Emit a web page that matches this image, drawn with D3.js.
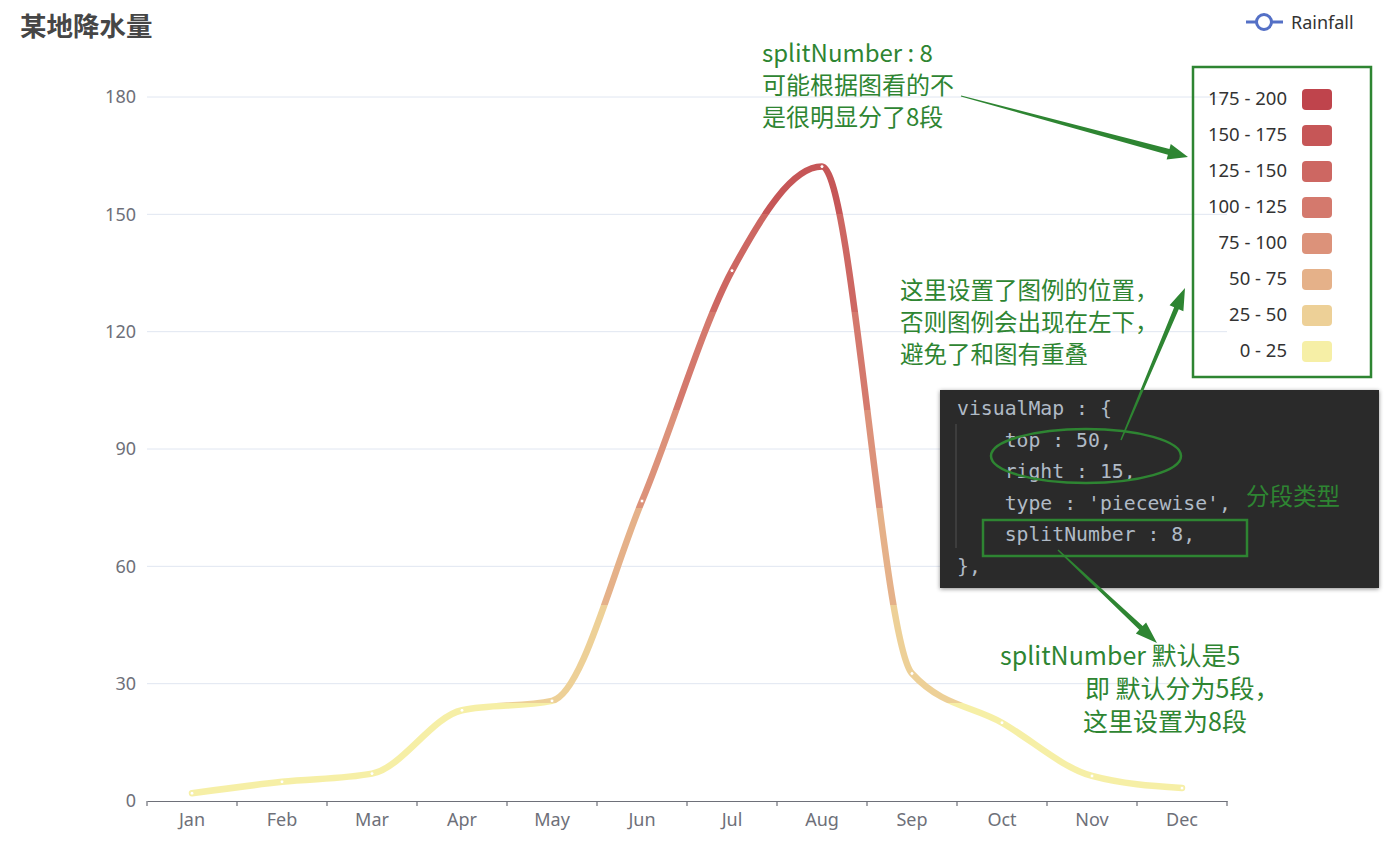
<!DOCTYPE html>
<html>
<head>
<meta charset="utf-8">
<script src="https://cdn.jsdelivr.net/npm/d3@7"></script>
<style>
  html, body { margin: 0; padding: 0; background: #fff; }
  svg { display: block; font-family: "Noto Sans CJK SC", "Noto Sans", sans-serif; }
</style>
</head>
<body>
<svg id="chart" width="1392" height="852"></svg>
<script>
// 数据
const months = ["Jan", "Feb", "Mar", "Apr", "May", "Jun", "Jul", "Aug", "Sep", "Oct", "Nov", "Dec"];
const rainfall = [2.0, 4.9, 7.0, 23.2, 25.6, 76.7, 135.6, 162.2, 32.6, 20.0, 6.4, 3.3];
const yTicks = [0, 30, 60, 90, 120, 150, 180];
const pieceBreaks = [0, 25, 50, 75, 100, 125, 150, 175, 200];
const codeLines = ["visualMap : {", "    top : 50,", "    right : 15,", "    type : 'piecewise',", "    splitNumber : 8,", "},"];

const green = "#2e8532";
const svg = d3.select("#chart");

const x = d3.scaleBand().domain(months).range([147, 1227]);
const y = d3.scaleLinear().domain([0, 180]).range([801, 97]);

// 分段颜色 (visualMap 默认颜色插值)
const colorInterp = d3.piecewise(d3.interpolateRgb, ["#f6efa6", "#d88273", "#bf444c"]);
const nPieces = pieceBreaks.length - 1;
const pieceColors = d3.range(nPieces).map(i => d3.color(colorInterp(i / (nPieces - 1))).formatHex());
const pieceOf = v => Math.min(nPieces - 1, Math.max(0, Math.floor(v / 25)));

// 标题
svg.append("text").attr("x", 20).attr("y", 36)
  .attr("font-size", 26.5).attr("font-weight", "bold").attr("fill", "#464646")
  .text("某地降水量");

// 网格线
svg.append("g").selectAll("line").data(yTicks.slice(1)).enter().append("line")
  .attr("x1", 147).attr("x2", 1227)
  .attr("y1", d => y(d)).attr("y2", d => y(d))
  .attr("stroke", "#e0e6f1").attr("stroke-width", 1);

// Y 轴
const yAxis = svg.append("g").attr("transform", "translate(147,0)")
  .call(d3.axisLeft(y).tickValues(yTicks).tickSize(0).tickPadding(11));
yAxis.select(".domain").remove();
yAxis.selectAll("text").attr("font-size", 18).attr("fill", "#6e7079")
  .attr("font-family", "'Noto Sans', sans-serif");

// X 轴
const xAxis = svg.append("g").attr("transform", "translate(0,801)")
  .call(d3.axisBottom(x).tickSize(0).tickSizeOuter(0).tickPadding(12));
xAxis.select(".domain").attr("stroke", "#6e7079").attr("stroke-width", 1.2);
xAxis.selectAll("text").attr("font-size", 18).attr("fill", "#6e7079")
  .attr("font-family", "'Noto Sans', sans-serif");
xAxis.selectAll(".boundary").data(months.map(m => x(m)).concat([x.range()[1]]))
  .enter().append("line").attr("class", "boundary")
  .attr("x1", d => d).attr("x2", d => d).attr("y1", 0).attr("y2", 5)
  .attr("stroke", "#6e7079").attr("stroke-width", 1.2);

// 分段渐变
const defs = svg.append("defs");
const grad = defs.append("linearGradient").attr("id", "pieceGrad")
  .attr("gradientUnits", "userSpaceOnUse")
  .attr("x1", 0).attr("x2", 0).attr("y1", y(0)).attr("y2", y(200));
pieceColors.forEach((c, i) => {
  grad.append("stop").attr("offset", pieceBreaks[i] / 200).attr("stop-color", c);
  grad.append("stop").attr("offset", pieceBreaks[i + 1] / 200).attr("stop-color", c);
});

// 折线
const line = d3.line()
  .x((d, i) => x(months[i]) + x.bandwidth() / 2)
  .y(d => y(d))
  .curve(d3.curveMonotoneX);
svg.append("path").datum(rainfall)
  .attr("d", line).attr("fill", "none")
  .attr("stroke", "url(#pieceGrad)").attr("stroke-width", 6.5)
  .attr("stroke-linejoin", "round").attr("stroke-linecap", "round");

svg.append("g").selectAll("circle").data(rainfall).enter().append("circle")
  .attr("cx", (d, i) => x(months[i]) + x.bandwidth() / 2)
  .attr("cy", d => y(d)).attr("r", 2)
  .attr("fill", "#fff").attr("stroke", d => pieceColors[pieceOf(d)]).attr("stroke-width", 1);

// 图例
const lg = svg.append("g");
lg.append("line").attr("x1", 1246).attr("x2", 1283).attr("y1", 22).attr("y2", 22)
  .attr("stroke", "#5470c6").attr("stroke-width", 3);
lg.append("circle").attr("cx", 1264).attr("cy", 22).attr("r", 7.5)
  .attr("fill", "#fff").attr("stroke", "#5470c6").attr("stroke-width", 3);
lg.append("text").attr("x", 1291).attr("y", 28.5).attr("font-size", 18).attr("fill", "#333")
  .attr("font-family", "'Noto Sans', sans-serif").text("Rainfall");

// visualMap 分段图例
const vm = svg.append("g");
const pieces = d3.range(nPieces).reverse();
vm.selectAll("rect.piece").data(pieces).enter().append("rect").attr("class", "piece")
  .attr("x", 1302).attr("y", (d, k) => 89 + k * 36)
  .attr("width", 30).attr("height", 21).attr("rx", 4)
  .attr("fill", d => pieceColors[d]);
vm.selectAll("text").data(pieces).enter().append("text")
  .attr("x", 1287).attr("y", (d, k) => 105 + k * 36)
  .attr("text-anchor", "end").attr("font-size", 18.5).attr("fill", "#333")
  .attr("font-family", "'Noto Sans', sans-serif")
  .text(d => pieceBreaks[d] + " - " + pieceBreaks[d + 1]);
svg.append("rect").attr("x", 1193).attr("y", 67).attr("width", 178).attr("height", 310)
  .attr("fill", "none").attr("stroke", green).attr("stroke-width", 2.5);

// 代码截图
const shadow = defs.append("filter").attr("id", "shadow")
  .attr("x", "-5%").attr("y", "-5%").attr("width", "110%").attr("height", "115%");
shadow.append("feDropShadow").attr("dx", 0).attr("dy", 1).attr("stdDeviation", 2)
  .attr("flood-color", "#000").attr("flood-opacity", 0.45);
svg.append("rect").attr("x", 940).attr("y", 390).attr("width", 439).attr("height", 198)
  .attr("fill", "#2b2b2b").attr("filter", "url(#shadow)");
svg.append("line").attr("x1", 956).attr("x2", 956).attr("y1", 424).attr("y2", 548)
  .attr("stroke", "#444").attr("stroke-width", 1.5);
svg.append("g").selectAll("text").data(codeLines).enter().append("text")
  .attr("x", 957).attr("y", (d, i) => 415 + i * 31.5)
  .attr("font-family", "'DejaVu Sans Mono', monospace").attr("font-size", 19.8)
  .attr("fill", "#b0bac6").attr("xml:space", "preserve")
  .style("white-space", "pre").text(d => d);

// 标注
svg.append("ellipse").attr("cx", 1086).attr("cy", 456).attr("rx", 95).attr("ry", 27)
  .attr("fill", "none").attr("stroke", green).attr("stroke-width", 2.5);
svg.append("rect").attr("x", 983).attr("y", 520).attr("width", 264).attr("height", 36)
  .attr("fill", "none").attr("stroke", green).attr("stroke-width", 2.5);

function arrow(x0, y0, x1, y1, w0, w1, headLen, headW) {
  const dx = x1 - x0, dy = y1 - y0, len = Math.hypot(dx, dy);
  const ux = dx / len, uy = dy / len, nx = -uy, ny = ux;
  const bx = x1 - ux * headLen, by = y1 - uy * headLen;
  const pts = [
    [x0 + nx * w0 / 2, y0 + ny * w0 / 2],
    [bx + nx * w1 / 2, by + ny * w1 / 2],
    [bx + nx * headW / 2, by + ny * headW / 2],
    [x1, y1],
    [bx - nx * headW / 2, by - ny * headW / 2],
    [bx - nx * w1 / 2, by - ny * w1 / 2],
    [x0 - nx * w0 / 2, y0 - ny * w0 / 2]
  ];
  svg.append("polygon").attr("points", pts.map(p => p.join(",")).join(" ")).attr("fill", green);
}
arrow(961, 96, 1188, 157, 1, 6, 20, 16);
arrow(1121, 440, 1185, 288, 1.5, 5, 22, 15);
arrow(1058, 550, 1157, 643, 1.5, 5, 22, 15);

function note(lines, x0, y0, size, dy) {
  const t = svg.append("text").attr("fill", green).attr("font-size", size)
    .attr("font-family", "'Noto Sans CJK SC', sans-serif");
  lines.forEach((l, i) => {
    t.append("tspan").attr("x", Array.isArray(l) ? l[1] : x0).attr("y", y0 + i * dy)
      .text(Array.isArray(l) ? l[0] : l);
  });
}
note(["splitNumber : 8", "可能根据图看的不", "是很明显分了8段"], 762, 62, 24, 32);
note(["这里设置了图例的位置，", "否则图例会出现在左下，", "避免了和图有重叠"], 900, 299, 23.5, 32);
note(["splitNumber 默认是5", ["即 默认分为5段，", 1085], ["这里设置为8段", 1083]], 1000, 665, 25, 33);
svg.append("text").attr("x", 1246).attr("y", 505).attr("fill", green).attr("font-size", 23.5)
  .attr("font-family", "'Noto Sans CJK SC', sans-serif").text("分段类型");
</script>
</body>
</html>
